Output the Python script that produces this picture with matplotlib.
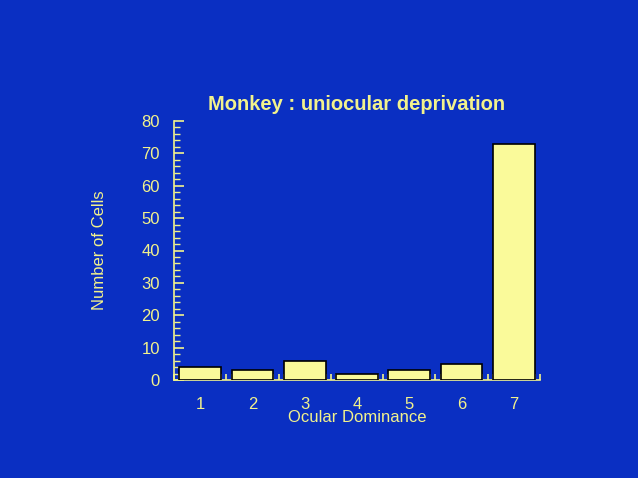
import numpy as np
import matplotlib.pyplot as plt
from matplotlib.ticker import MultipleLocator

# data
dominance = [1, 2, 3, 4, 5, 6, 7]
cells = [4, 3, 6, 2, 3, 5, 73]

bg = '#0a2fc2'
yellow = '#f2f28c'
barcol = '#fafa9a'

plt.rcParams['font.family'] = ['Liberation Sans', 'DejaVu Sans']

fig = plt.figure(figsize=(6.38, 4.78), dpi=100, facecolor=bg)
ax = fig.add_axes([174/638, 1-380/478, 366/638, 259/478])
ax.set_facecolor(bg)

ax.bar(dominance, cells, width=0.8, color=barcol, edgecolor='black', linewidth=1.2, zorder=3)

ax.set_xlim(0.5, 7.5)
ax.set_ylim(0, 80)

for s in ['top', 'right']:
    ax.spines[s].set_visible(False)
for s in ['left', 'bottom']:
    ax.spines[s].set_color(yellow)
    ax.spines[s].set_linewidth(1.2)

ax.yaxis.set_major_locator(MultipleLocator(10))
ax.yaxis.set_minor_locator(MultipleLocator(2))
ax.set_xticks(dominance)
ax.set_xticks(np.arange(0.5, 7.55, 0.1), minor=True)
ax.tick_params(axis='y', which='major', direction='in', length=7, width=1.2, color=yellow,
               labelcolor=yellow, labelsize=12, pad=10)
ax.tick_params(axis='y', which='minor', direction='in', length=4, width=1, color=yellow)
ax.tick_params(axis='x', which='major', length=0, labelcolor=yellow, labelsize=12, pad=12)
ax.tick_params(axis='x', which='minor', direction='in', length=4.5, width=1.2, color=yellow)

ax.set_title('Monkey : uniocular deprivation', color=yellow, fontsize=14.5, fontweight='bold', pad=8)
ax.set_xlabel('Ocular Dominance', color=yellow, fontsize=12, labelpad=-1)
ax.set_ylabel('Number of Cells', color=yellow, fontsize=12, labelpad=25)

fig.savefig('out.png', dpi=100, facecolor=bg)
